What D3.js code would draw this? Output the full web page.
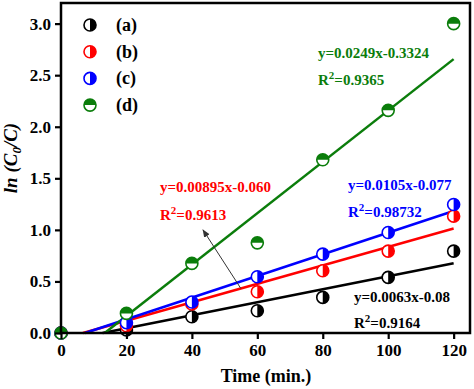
<!DOCTYPE html>
<html><head><meta charset="utf-8">
<script src="https://cdn.jsdelivr.net/npm/d3@7/dist/d3.min.js"></script>
<style>body{margin:0;background:#fff}svg{display:block}</style>
</head><body>
<script>
const times = [0, 20, 40, 60, 80, 100, 120];
const seriesA = [0, 0.03, 0.158, 0.216, 0.345, 0.539, 0.794];
const seriesB = [0, 0.07, 0.281, 0.40, 0.603, 0.794, 1.133];
const seriesC = [0, 0.10, 0.30, 0.545, 0.765, 0.975, 1.246];
const seriesD = [0, 0.19, 0.675, 0.874, 1.68, 2.159, 3.0];
const labels = ["(a)", "(b)", "(c)", "(d)"];
const slopes = [0.0063, 0.00895, 0.0105, 0.0249];
const intercepts = [-0.08, -0.060, -0.077, -0.3324];
const eqTexts = ["y=0.0063x-0.08", "y=0.00895x-0.060", "y=0.0105x-0.077", "y=0.0249x-0.3324"];
const r2Texts = ["0.9164", "0.9613", "0.98732", "0.9365"];
const xTicks = [0, 20, 40, 60, 80, 100, 120];
const yTicks = [0, 0.5, 1.0, 1.5, 2.0, 2.5, 3.0];
const colors = ["#000000", "#ff0000", "#0000ff", "#0b7d0b"];
const fillSide = ["right", "right", "right", "top"];

const W = 474, H = 389;
const m = {l: 61, t: 3, r: 4, b: 56};
const svg = d3.select("body").append("svg").attr("width", W).attr("height", H);
const x = d3.scaleLinear().domain([0, 125]).range([m.l, W - m.r]);
const y = d3.scaleLinear().domain([0, 3.2]).range([H - m.b, m.t]);
const font = "'Liberation Serif','Times New Roman',serif";
const all = [seriesA, seriesB, seriesC, seriesD];

// fit lines
const lineGen = d3.line().x(d => x(d[0])).y(d => y(d[1]));
all.forEach((s, i) => {
  const x0 = -intercepts[i] / slopes[i];
  svg.append("path").attr("d", lineGen([[x0, 0], [120, slopes[i] * 120 + intercepts[i]]]))
    .attr("stroke", colors[i]).attr("stroke-width", 2.5).attr("fill", "none");
});

function marker(g, cx, cy, r, color, side) {
  g.append("circle").attr("cx", cx).attr("cy", cy).attr("r", r).attr("fill", "#fff");
  let d;
  if (side === "right") d = `M${cx},${cy - r} A${r},${r} 0 0 1 ${cx},${cy + r} Z`;
  else d = `M${cx - r},${cy} A${r},${r} 0 0 1 ${cx + r},${cy} Z`;
  g.append("path").attr("d", d).attr("fill", color);
  g.append("circle").attr("cx", cx).attr("cy", cy).attr("r", r).attr("fill", "none")
    .attr("stroke", color).attr("stroke-width", 1.6);
}

const pts = svg.append("g");
all.forEach((s, i) => {
  s.forEach((v, j) => marker(pts, x(times[j]), y(v), 6, colors[i], fillSide[i]));
});

// frame
svg.append("rect").attr("x", m.l).attr("y", m.t).attr("width", W - m.l - m.r).attr("height", H - m.t - m.b)
  .attr("fill", "none").attr("stroke", "#000").attr("stroke-width", 2.5);

// axes
const xAxis = svg.append("g").attr("transform", `translate(0,${H - m.b})`)
  .call(d3.axisBottom(x).tickValues(xTicks).tickSize(6).tickPadding(5).tickFormat(d3.format("d")));
const yAxis = svg.append("g").attr("transform", `translate(${m.l},0)`)
  .call(d3.axisLeft(y).tickValues(yTicks).tickSize(6).tickPadding(4).tickFormat(d3.format(".1f")));
[xAxis, yAxis].forEach(a => {
  a.select(".domain").remove();
  a.selectAll(".tick line").attr("stroke", "#000").attr("stroke-width", 2.2);
  a.selectAll("text").attr("font-family", font).attr("font-weight", "bold").attr("font-size", 17).attr("fill", "#000");
});

// axis titles
svg.append("text").attr("x", 266).attr("y", 382).attr("text-anchor", "middle")
  .attr("font-family", font).attr("font-weight", "bold").attr("font-size", 18).text("Time (min.)");
const yt = svg.append("text").attr("transform", "translate(17,158) rotate(-90)").attr("text-anchor", "middle")
  .attr("font-family", font).attr("font-weight", "bold").attr("font-style", "italic").attr("font-size", 19);
yt.append("tspan").text("ln (C");
yt.append("tspan").attr("font-size", 13).attr("dy", 4).text("0");
yt.append("tspan").attr("dy", -4).text("/C)");

// legend
labels.forEach((l, i) => {
  const ly = 25 + i * 26.7;
  marker(svg, 90, ly, 6, colors[i], fillSide[i]);
  svg.append("text").attr("x", 116).attr("y", ly + 6).attr("font-family", font).attr("font-weight", "bold")
    .attr("font-size", 18).text(l);
});

// equations
const eqPos = [[354, 302, 328], [160, 192, 220], [348, 190, 217], [318, 58, 85]];
eqTexts.forEach((t, i) => {
  const [ex, ey, ry] = eqPos[i];
  svg.append("text").attr("x", ex).attr("y", ey).attr("font-family", font).attr("font-weight", "bold")
    .attr("font-size", 15).attr("fill", colors[i]).text(t);
  const r = svg.append("text").attr("x", ex).attr("y", ry).attr("font-family", font).attr("font-weight", "bold")
    .attr("font-size", 15).attr("fill", colors[i]);
  r.append("tspan").text("R");
  r.append("tspan").attr("dy", -6).attr("font-size", 11).text("2");
  r.append("tspan").attr("dy", 6).text("=" + r2Texts[i]);
});

// arrow
svg.append("defs").append("marker").attr("id", "ah").attr("viewBox", "0 0 10 10").attr("refX", 9).attr("refY", 5)
  .attr("markerWidth", 8).attr("markerHeight", 8).attr("orient", "auto")
  .append("path").attr("d", "M0,1 L10,5 L0,9 Z").attr("fill", "#333");
svg.append("line").attr("x1", x(55)).attr("y1", y(0.43)).attr("x2", x(43.4)).attr("y2", y(1.0))
  .attr("stroke", "#333").attr("stroke-width", 1).attr("marker-end", "url(#ah)");
</script>
</body></html>
